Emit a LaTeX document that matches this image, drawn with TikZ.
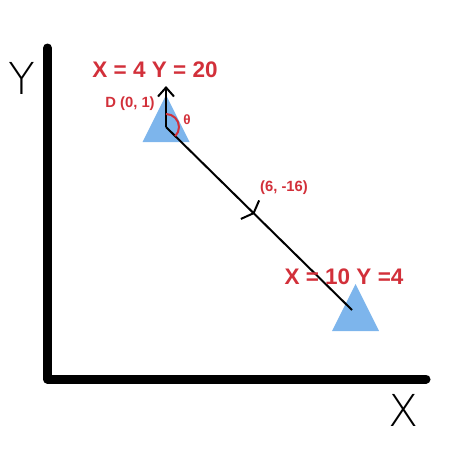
\documentclass[tikz,border=0pt]{standalone}
\usepackage{fontspec}
\setmainfont{Liberation Sans}
\newfontfamily\thinfont{DejaVu Sans ExtraLight}
\usetikzlibrary{arrows.meta,decorations.markings}
\definecolor{redlab}{HTML}{D2303A}
\definecolor{triblue}{HTML}{7DB5EC}
\tikzset{
  axis/.style={line width=9pt,line cap=round,line join=round},
  tri/.style={fill=triblue,draw=none},
  redtxt/.style={text=redlab,font=\bfseries\fontsize{22.5}{22.5}\selectfont,inner sep=0pt},
  smalltxt/.style={text=redlab,font=\bfseries\fontsize{14.8}{15}\selectfont,inner sep=0pt},
  axlab/.style={font=\thinfont\fontsize{44}{44}\selectfont,inner sep=0pt},
  vec/.style={line width=2pt},
}
\begin{document}
\begin{tikzpicture}[x=1pt,y=-1pt]
\useasboundingbox (0,0) rectangle (474,474);
% axes
\draw[axis] (47.5,48) -- (47.5,379) -- (426,379);
\node[axlab] (ylab) at (22,78) {Y};
\node[axlab] (xlab) at (404,410) {X};
% triangles
\fill[tri] (166,95) -- (189.5,142) -- (142.5,142) -- cycle;
\fill[tri] (355.5,284) -- (379,331) -- (332,331) -- cycle;
% vector
\coordinate (P) at (166,127);
\coordinate (Q) at (352,310);
\coordinate (T) at (166,86);
\draw[vec,-{Straight Barb[length=9pt,width=16pt]}] (P) -- (T);
\draw[vec,decoration={markings,mark=at position 0.475 with {\arrow{Straight Barb[length=5pt,width=26pt]}}},postaction={decorate}] (P) -- (Q);
% angle
\draw[redlab,line width=2pt] (166,114) arc[start angle=-90,end angle=45,radius=13];
\node[text=redlab,font=\bfseries\fontsize{13.5}{13.5}\selectfont,inner sep=0pt] (th) at (187,120) {θ};
% labels
\node[redtxt] (l1) at (155,70) {X = 4 Y = 20};
\node[smalltxt] (d) at (130,104) {D (0, 1)};
\node[smalltxt] (m) at (284,188) {(6, -16)};
\node[redtxt] (l2) at (344,277) {X = 10 Y =4};
\end{tikzpicture}
\end{document}
